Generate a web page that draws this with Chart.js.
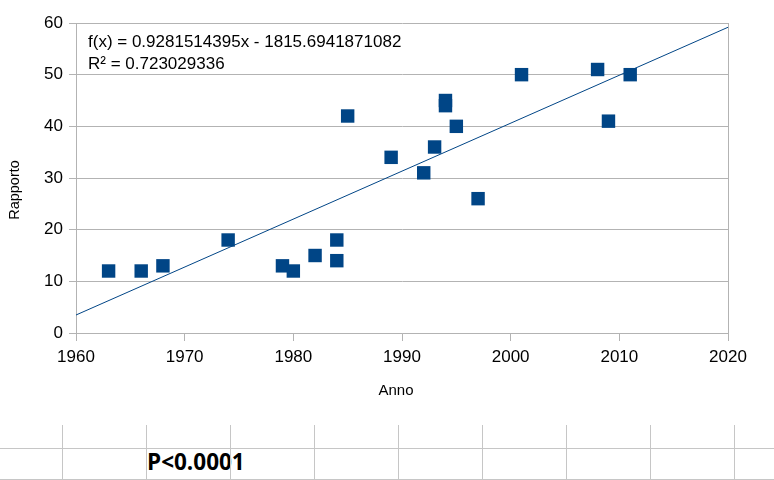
<!DOCTYPE html>
<html>
<head>
<meta charset="utf-8">
<script src="https://cdn.jsdelivr.net/npm/chart.js@4"></script>
<style>
  body { margin: 0; background: #fff; width: 774px; height: 480px; overflow: hidden; position: relative; }
  #wrap { position: absolute; left: 0; top: 0; width: 774px; height: 420px; }
  .hline { position: absolute; left: 0; width: 774px; height: 1px; background: #c6c6c6; }
  .vline { position: absolute; top: 425px; width: 1px; height: 55px; background: #c6c6c6; }
  #pval { position: absolute; left: 147px; top: 449px; font: bold 22.5px "Open Sans", sans-serif; color: #000; line-height: 26px; }
</style>
</head>
<body>
<div id="wrap"><canvas id="container"></canvas></div>
<div class="hline" style="top:448px"></div>
<div class="hline" style="top:479px"></div>
<div id="pval">P&lt;0.0001</div>
<script>
const years = [1963, 1966, 1968, 1974, 1979, 1980, 1982, 1984, 1984, 1985, 1989, 1992, 1993, 1994, 1994, 1995, 1997, 2001, 2008, 2009, 2011];
const ratio = [12, 12, 13, 18, 13, 12, 15, 18, 14, 42, 34, 31, 36, 45, 44, 40, 26, 50, 51, 41, 50];
const slope = 0.9281514395;
const intercept = -1815.6941871082;
const xMin = 1960, xMax = 2020;
const eqText = ["f(x) = 0.9281514395x - 1815.6941871082", "R\u00b2 = 0.723029336"];

// colonne del foglio sotto il grafico
for (let i = 0; i < 9; i++) {
  const d = document.createElement("div");
  d.className = "vline";
  d.style.left = (62 + i * 84) + "px";
  document.body.appendChild(d);
}

const gray = "#b3b3b3";
const blue = "#004586";

const points = years.map((y, i) => ({ x: y, y: ratio[i] }));
const trend = [xMin, xMax].map((x) => ({ x: x, y: slope * x + intercept }));

const labelsPlugin = {
  id: "labels",
  afterDraw(chart) {
    const { ctx, chartArea } = chart;
    ctx.save();
    ctx.fillStyle = "#000";
    ctx.font = '17px "Liberation Sans"';
    ctx.textBaseline = "alphabetic";
    ctx.fillText(eqText[0], chartArea.left + 12, chartArea.top + 23.5);
    ctx.fillText(eqText[1], chartArea.left + 12, chartArea.top + 45.5);
    // titolo asse x
    ctx.font = '15px "Liberation Sans"';
    ctx.textAlign = "center";
    ctx.textBaseline = "middle";
    ctx.fillText("Anno", (chartArea.left + chartArea.right) / 2 - 6, chartArea.bottom + 58);
    // titolo asse y
    ctx.font = '14.5px "Liberation Sans"';
    ctx.translate(15, (chartArea.top + chartArea.bottom) / 2 + 12);
    ctx.rotate(-Math.PI / 2);
    ctx.fillText("Rapporto", 0, 0);
    ctx.restore();
  },
};

const ctx = document.getElementById("container");
const myChart = new Chart(ctx, {
  type: "scatter",
  data: {
    datasets: [
      {
        type: "scatter",
        data: points,
        pointStyle: "rect",
        pointRadius: 9.5,
        backgroundColor: blue,
        borderWidth: 0,
      },
      {
        type: "line",
        data: trend,
        borderColor: blue,
        borderWidth: 1,
        pointRadius: 0,
        fill: false,
      },
    ],
  },
  options: {
    responsive: true,
    maintainAspectRatio: false,
    animation: false,
    layout: { padding: { left: 0, right: 46, top: 23, bottom: 0 } },
    plugins: { legend: { display: false }, tooltip: { enabled: false } },
    scales: {
      x: {
        type: "linear",
        min: xMin,
        max: xMax,
        ticks: {
          stepSize: 10,
          color: "#000",
          padding: 6,
          font: { family: "Liberation Sans", size: 17 },
          callback: (v) => String(v),
        },
        grid: {
          color: (c) => (c.tick && c.tick.value === xMax ? gray : "transparent"),
          tickColor: gray,
          tickLength: 8,
        },
        border: { color: gray },
        afterFit: (scale) => { scale.height = 87; },
      },
      y: {
        min: 0,
        max: 60,
        ticks: { stepSize: 10, color: "#000", padding: 6, font: { family: "Liberation Sans", size: 17 } },
        grid: { color: gray, tickLength: 7 },
        border: { color: gray },
        afterFit: (scale) => { scale.width = 76; },
      },
    },
  },
  plugins: [labelsPlugin],
});
</script>
</body>
</html>
